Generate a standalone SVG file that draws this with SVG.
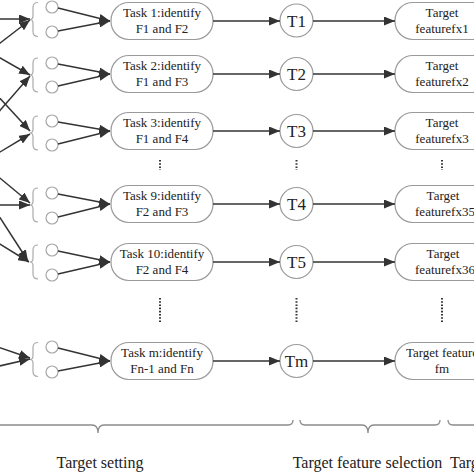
<svg xmlns="http://www.w3.org/2000/svg" width="474" height="474" viewBox="0 0 474 474">
<style>
.box{fill:#fff;stroke:#9a9a9a;stroke-width:1.2}
.sc{fill:#fff;stroke:#a8a8a8;stroke-width:1.2}
.br{fill:none;stroke:#ababab;stroke-width:1.2}
.bb{fill:none;stroke:#8c8c8c;stroke-width:1.3}
.ar{fill:none;stroke:#333;stroke-width:1.5;marker-end:url(#ah)}
.t{font-family:"Liberation Serif","Times New Roman",serif;font-size:13px;fill:#222;text-anchor:middle}
.tc{font-family:"Liberation Serif","Times New Roman",serif;font-size:17px;fill:#222;text-anchor:middle}
.tb{font-family:"Liberation Serif","Times New Roman",serif;font-size:16px;fill:#222;text-anchor:middle}
.dl{stroke:#333;stroke-width:2;stroke-dasharray:1.6,1.6}
</style>
<defs>
<marker id="ah" markerWidth="11" markerHeight="9" refX="11" refY="4.5" orient="auto" markerUnits="userSpaceOnUse">
<path d="M0,0 L11,4.5 L0,9 Z" fill="#333"/>
</marker>
</defs>

<!-- left input groups: braces and small circles -->
<g id="inputs">
<path class="br" d="M38,2.5 Q33,2.5 33,7.5 L33,15.5 Q33,19.5 30,19.5 Q33,19.5 33,23.5 L33,31.5 Q33,36.5 38,36.5"/>
<circle class="sc" cx="52" cy="7" r="6"/><circle class="sc" cx="52" cy="32" r="6"/>
<path class="br" d="M38,58 Q33,58 33,63 L33,71 Q33,75 30,75 Q33,75 33,79 L33,87 Q33,92 38,92"/>
<circle class="sc" cx="52" cy="63" r="6"/><circle class="sc" cx="52" cy="87" r="6"/>
<path class="br" d="M38,116 Q33,116 33,121 L33,129 Q33,133 30,133 Q33,133 33,137 L33,145 Q33,150 38,150"/>
<circle class="sc" cx="52" cy="121" r="6"/><circle class="sc" cx="52" cy="145" r="6"/>
<path class="br" d="M38,188 Q33,188 33,193 L33,201 Q33,205 30,205 Q33,205 33,209 L33,217 Q33,222 38,222"/>
<circle class="sc" cx="52" cy="193" r="6"/><circle class="sc" cx="52" cy="218" r="6"/>
<path class="br" d="M38,245 Q33,245 33,250 L33,258 Q33,262 30,262 Q33,262 33,266 L33,274 Q33,279 38,279"/>
<circle class="sc" cx="52" cy="250" r="6"/><circle class="sc" cx="52" cy="275" r="6"/>
<path class="br" d="M38,342.5 Q33,342.5 33,347.5 L33,355.5 Q33,359.5 30,359.5 Q33,359.5 33,363.5 L33,371.5 Q33,376.5 38,376.5"/>
<circle class="sc" cx="52" cy="347" r="6"/><circle class="sc" cx="52" cy="372" r="6"/>
</g>

<!-- task nodes -->
<g id="task1"><rect class="box" x="111" y="2.5" width="102" height="37" rx="18"/><text class="t" x="162" y="17">Task 1:identify</text><text class="t" x="162" y="33">F1 and F2</text></g>
<g id="task2"><rect class="box" x="111" y="55.5" width="102" height="37" rx="18"/><text class="t" x="162" y="70">Task 2:identify</text><text class="t" x="162" y="86">F1 and F3</text></g>
<g id="task3"><rect class="box" x="111" y="112.5" width="102" height="37" rx="18"/><text class="t" x="162" y="127">Task 3:identify</text><text class="t" x="162" y="143">F1 and F4</text></g>
<g id="task9"><rect class="box" x="111" y="185.5" width="102" height="37" rx="18"/><text class="t" x="162" y="200">Task 9:identify</text><text class="t" x="162" y="216">F2 and F3</text></g>
<g id="task10"><rect class="box" x="111" y="243.5" width="102" height="37" rx="18"/><text class="t" x="162" y="258">Task 10:identify</text><text class="t" x="162" y="274">F2 and F4</text></g>
<g id="taskm"><rect class="box" x="111" y="342.5" width="102" height="37" rx="18"/><text class="t" x="162" y="357">Task m:identify</text><text class="t" x="162" y="373">Fn-1 and Fn</text></g>

<!-- T nodes -->
<g id="T1"><circle class="box" cx="296.5" cy="20.5" r="16.5"/><text class="tc" x="296.5" y="26.5">T1</text></g>
<g id="T2"><circle class="box" cx="296.5" cy="74" r="16.5"/><text class="tc" x="296.5" y="80">T2</text></g>
<g id="T3"><circle class="box" cx="296.5" cy="131" r="16.5"/><text class="tc" x="296.5" y="137">T3</text></g>
<g id="T4"><circle class="box" cx="296.5" cy="204" r="16.5"/><text class="tc" x="296.5" y="210">T4</text></g>
<g id="T5"><circle class="box" cx="296.5" cy="262" r="16.5"/><text class="tc" x="296.5" y="268">T5</text></g>
<g id="Tm"><circle class="box" cx="296.5" cy="361" r="16.5"/><text class="tc" x="296.5" y="367">Tm</text></g>

<!-- target feature nodes -->
<g id="target1"><rect class="box" x="395" y="2.5" width="110" height="37" rx="18"/><text class="t" x="442" y="17">Target</text><text class="t" x="442" y="33">featurefx1</text></g>
<g id="target2"><rect class="box" x="395" y="55.5" width="110" height="37" rx="18"/><text class="t" x="442" y="70">Target</text><text class="t" x="442" y="86">featurefx2</text></g>
<g id="target3"><rect class="box" x="395" y="112.5" width="110" height="37" rx="18"/><text class="t" x="442" y="127">Target</text><text class="t" x="442" y="143">featurefx3</text></g>
<g id="target35"><rect class="box" x="395" y="185.5" width="110" height="37" rx="18"/><text class="t" x="443" y="200">Target</text><text class="t" x="445" y="216">featurefx35</text></g>
<g id="target36"><rect class="box" x="395" y="243.5" width="110" height="37" rx="18"/><text class="t" x="443" y="258">Target</text><text class="t" x="445" y="274">featurefx36</text></g>
<g id="targetm"><rect class="box" x="395" y="342.5" width="110" height="37" rx="18"/><text class="t" x="442" y="357">Target feature</text><text class="t" x="442" y="373">fm</text></g>

<!-- connectors -->
<g id="connectors">
<path class="ar" d="M-5,19 L30,19"/>
<path class="ar" d="M-5,47 L30,20"/>
<path class="ar" d="M-5,55 L30,75"/>
<path class="ar" d="M-5,116 L30,76"/>
<path class="ar" d="M-5,93 L30,131"/>
<path class="ar" d="M-5,155 L30,134"/>
<path class="ar" d="M-5,174 L30,203"/>
<path class="ar" d="M-5,205 L30,205"/>
<path class="ar" d="M-3,213 L28,261"/>
<path class="ar" d="M-5,241 L29,262"/>
<path class="ar" d="M-5,346 L30,358"/>
<path class="ar" d="M-5,367 L30,359"/>

<path class="ar" d="M58,8 L110,21"/><path class="ar" d="M58,31 L110,21"/>
<path class="ar" d="M58,64 L110,74"/><path class="ar" d="M58,86 L110,74"/>
<path class="ar" d="M58,122 L110,131"/><path class="ar" d="M58,144 L110,131"/>
<path class="ar" d="M58,194 L110,204"/><path class="ar" d="M58,217 L110,204"/>
<path class="ar" d="M58,251 L110,262"/><path class="ar" d="M58,274 L110,262"/>
<path class="ar" d="M58,348 L110,361"/><path class="ar" d="M58,371 L110,361"/>

<path class="ar" d="M213,21 L280,21"/><path class="ar" d="M313,21 L395,21"/>
<path class="ar" d="M213,74 L280,74"/><path class="ar" d="M313,74 L395,74"/>
<path class="ar" d="M213,131 L280,131"/><path class="ar" d="M313,131 L395,131"/>
<path class="ar" d="M213,204 L280,204"/><path class="ar" d="M313,204 L395,204"/>
<path class="ar" d="M213,262 L280,262"/><path class="ar" d="M313,262 L395,262"/>
<path class="ar" d="M213,361 L280,361"/><path class="ar" d="M313,361 L395,361"/>
</g>

<!-- ellipsis dots -->
<g id="ellipses">
<line class="dl" x1="160" y1="160" x2="160" y2="170"/>
<line class="dl" x1="296.5" y1="160" x2="296.5" y2="170"/>
<line class="dl" x1="442" y1="160" x2="442" y2="170"/>
<line class="dl" x1="160" y1="298" x2="160" y2="322"/>
<line class="dl" x1="296.5" y1="298" x2="296.5" y2="322"/>
<line class="dl" x1="442" y1="298" x2="442" y2="322"/>
</g>

<!-- bottom braces and stage labels -->
<g id="stages">
<path class="bb" d="M-5,425 L92,425 Q98,425 98,433 Q98,425 104,425 L288,425 Q293,425 293,420"/>
<path class="bb" d="M300,420 Q300,425 305,425 L362,425 Q368,425 368,433 Q368,425 374,425 L435,425 Q440,425 440,420"/>
<path class="bb" d="M448,420 Q448,425 453,425 L480,425"/>
<text class="tb" x="100" y="468">Target setting</text>
<text class="tb" x="367.5" y="468">Target feature selection</text>
<text class="tb" x="450" y="468" style="text-anchor:start">Target</text>
</g>
</svg>
